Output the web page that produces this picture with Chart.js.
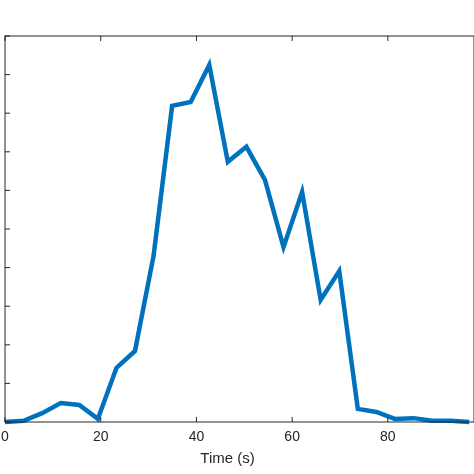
<!DOCTYPE html>
<html><head><script src="https://cdn.jsdelivr.net/npm/chart.js@4"></script>
<style>html,body{margin:0;background:#fff}#w{width:474px;height:474px}</style></head>
<body><div id="w"><canvas id="c"></canvas></div>
<script>
const timeValues=[0,3.88,7.76,11.64,15.52,19.4,23.28,27.16,31.04,34.92,38.8,42.68,46.56,50.44,54.32,58.2,62.08,65.96,69.84,73.72,77.6,81.48,85.36,89.24,93.12,97];
const signalValues=[0,0.03,0.23,0.49,0.44,0.08,1.4,1.84,4.3,8.19,8.29,9.25,6.74,7.13,6.27,4.53,5.96,3.16,3.91,0.34,0.26,0.08,0.1,0.03,0.03,0];
const xTicks=[0,20,40,60,80];
const yTicks=[0,1,2,3,4,5,6,7,8,9,10];
const xTitle='Time (s)';
const frame={id:'frame',afterDraw(c){const x=c.scales.x,y=c.scales.y,g=c.ctx;g.save();g.strokeStyle='#262626';g.lineWidth=1;
g.strokeRect(x.left,y.top,x.right-x.left,y.bottom-y.top);g.beginPath();
xTicks.forEach(v=>{const p=x.getPixelForValue(v);g.moveTo(p,y.bottom);g.lineTo(p,y.bottom-5);g.moveTo(p,y.top);g.lineTo(p,y.top+5);});
yTicks.forEach(v=>{const p=y.getPixelForValue(v);g.moveTo(x.left,p);g.lineTo(x.left+5,p);});
g.stroke();g.fillStyle='#262626';g.textAlign='center';g.textBaseline='middle';
g.font='14px "Liberation Sans"';xTicks.forEach(v=>g.fillText(String(v),x.getPixelForValue(v),y.bottom+15));
g.font='15px "Liberation Sans"';g.fillText(xTitle,(x.left+x.right)/2-12,y.bottom+37);g.restore();}};
new Chart(document.getElementById('c'),{type:'line',
data:{datasets:[{data:timeValues.map((t,i)=>({x:t,y:signalValues[i]})),borderColor:'#0072BD',borderWidth:4.5,pointRadius:0,tension:0,clip:false}]},
options:{responsive:true,maintainAspectRatio:false,animation:false,layout:{padding:{left:5,top:36,right:0,bottom:0}},
plugins:{legend:{display:false},tooltip:{enabled:false}},
scales:{x:{type:'linear',min:0,max:98,afterFit:s=>{s.height=52},grid:{display:false},border:{display:false},ticks:{display:false}},
y:{min:0,max:10,afterFit:s=>{s.width=0},grid:{display:false},border:{display:false},ticks:{display:false}}}},
plugins:[frame]});
</script></body></html>
